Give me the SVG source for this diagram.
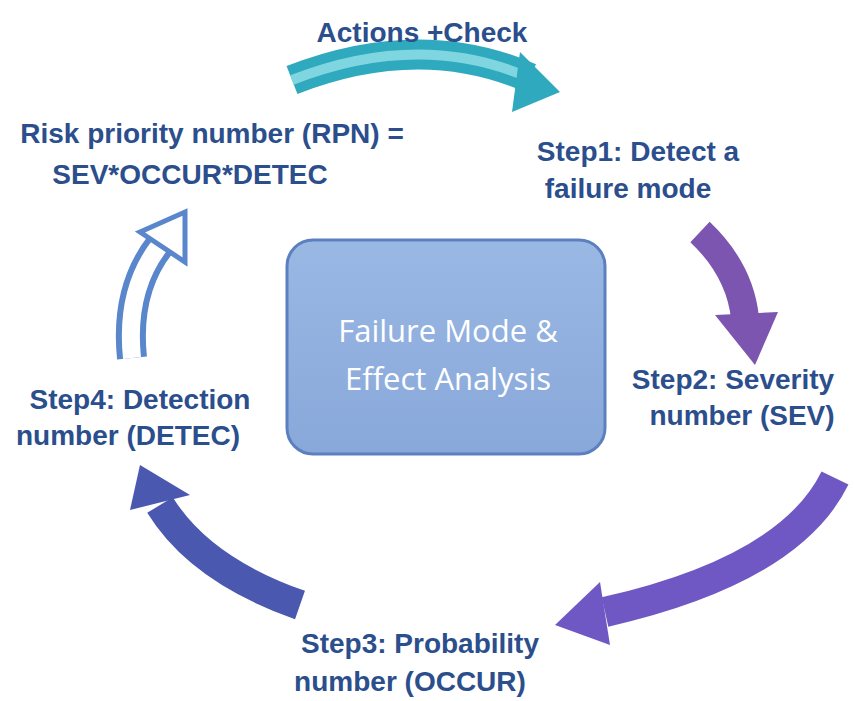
<svg xmlns="http://www.w3.org/2000/svg" width="854" height="701" viewBox="0 0 854 701">
<defs>
<linearGradient id="box" x1="0" y1="0" x2="0" y2="1"><stop offset="0" stop-color="#9ab8e4"/><stop offset="1" stop-color="#88a8da"/></linearGradient>
</defs>
<style>
.t{font-family:"Liberation Sans",Arial,sans-serif;font-weight:bold;font-size:28px;fill:#2b4e8c;text-anchor:middle}
.c{font-family:"Open Sans","Liberation Sans",sans-serif;font-size:31px;fill:#fff;text-anchor:middle}
.s{fill:none;stroke-linecap:butt}
</style>
<rect width="854" height="701" fill="#fff"/>
<g id="connectors">
<path class="s" d="M292,80 Q420,30 530,78" stroke="#2fa9bd" stroke-width="30"/>
<path class="s" d="M292,80 Q420,30 530,78" stroke="#7fd6e0" stroke-width="10"/>
<polygon points="520,52 560,92 512,112" fill="#2fa9bd"/>
<path class="s" d="M700,232 Q740,270 745,318" stroke="#7c55b0" stroke-width="28"/>
<polygon points="715,315 778,312 755,365" fill="#7c55b0"/>
<path class="s" d="M835,478 Q790,570 605,612" stroke="#7058c4" stroke-width="30"/>
<polygon points="600,582 555,625 610,645" fill="#7058c4"/>
<path class="s" d="M300,605 Q200,570 160,505" stroke="#4a58b0" stroke-width="30"/>
<polygon points="130,510 140,465 190,495" fill="#4a58b0"/>
<path class="s" d="M132,358 Q125,290 160,245" stroke="#5a86cc" stroke-width="30"/>
<path class="s" d="M132,358 Q125,290 160,245" stroke="#fff" stroke-width="18"/>
<polygon points="140,232 185,212 185,262" fill="#fff" stroke="#5a86cc" stroke-width="5"/>
</g>
<g id="center">
<rect x="287" y="240" width="318" height="214" rx="26" fill="url(#box)" stroke="#5c80bf" stroke-width="3"/>
<text class="c" x="448" y="342">Failure Mode &amp;</text>
<text class="c" x="448" y="390">Effect Analysis</text>
</g>
<g id="actions"><text class="t" x="422" y="42">Actions +Check</text></g>
<g id="rpn"><text class="t" x="212" y="143">Risk priority number (RPN) =</text><text class="t" x="190" y="184">SEV*OCCUR*DETEC</text></g>
<g id="step1"><text class="t" x="638" y="161">Step1: Detect a</text><text class="t" x="628" y="198">failure mode</text></g>
<g id="step2"><text class="t" x="733" y="389">Step2: Severity</text><text class="t" x="742" y="425">number (SEV)</text></g>
<g id="step3"><text class="t" x="420" y="653">Step3: Probability</text><text class="t" x="410" y="691">number (OCCUR)</text></g>
<g id="step4"><text class="t" x="140" y="409">Step4: Detection</text><text class="t" x="128" y="445">number (DETEC)</text></g>
</svg>
